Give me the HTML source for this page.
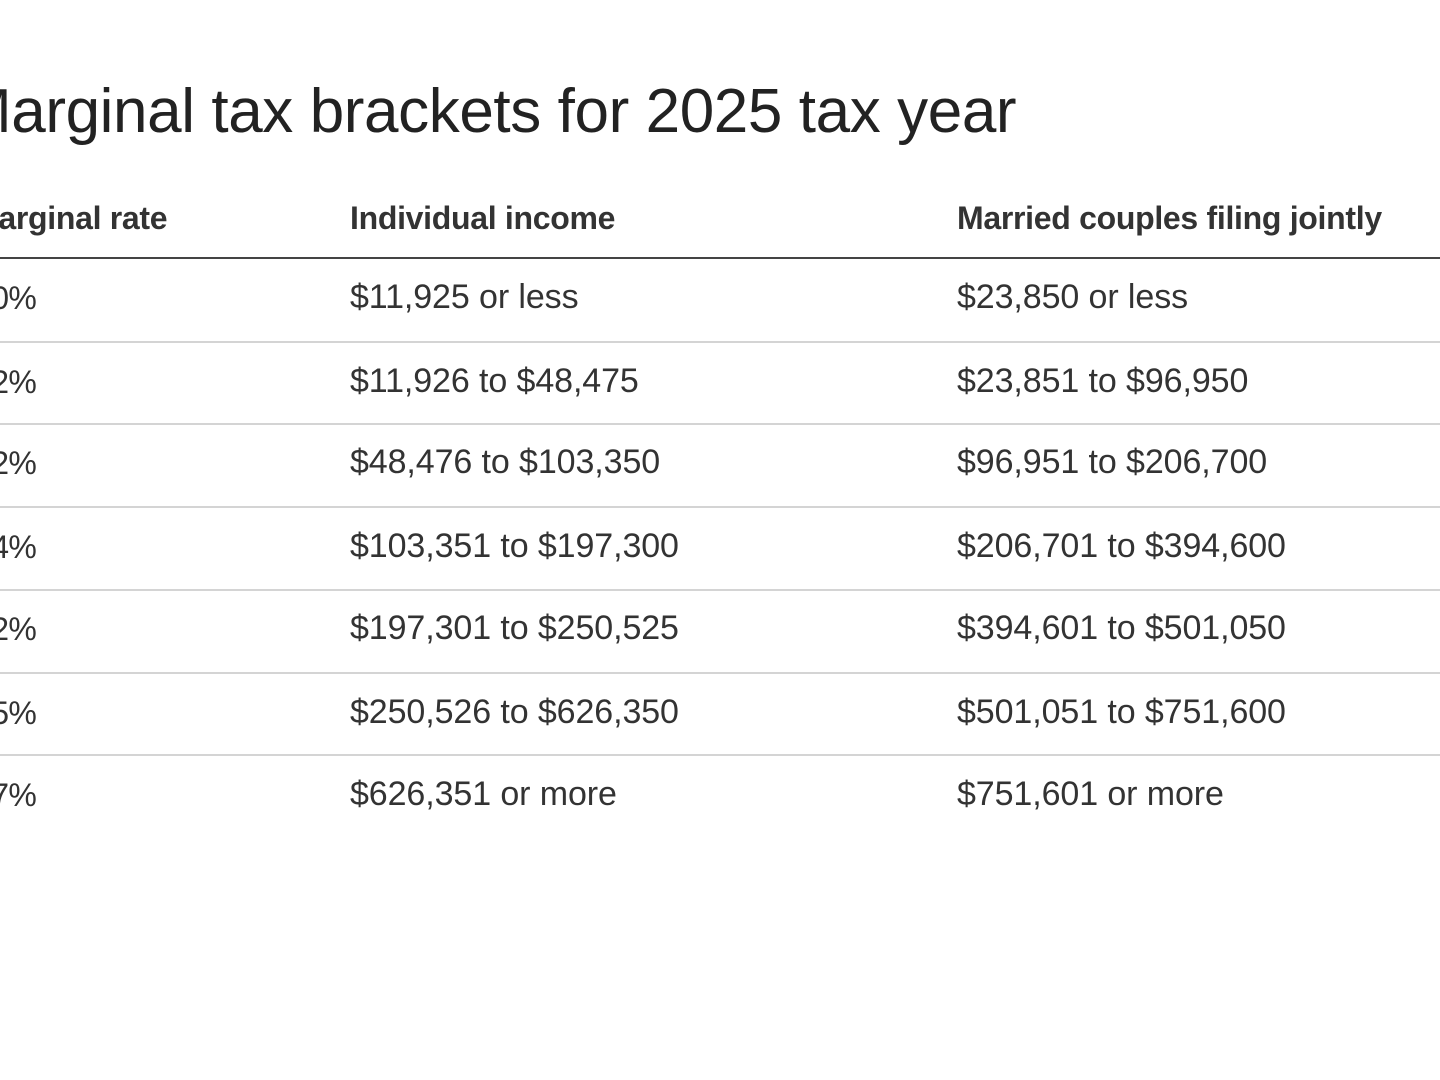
<!DOCTYPE html>
<html><head><meta charset="utf-8"><style>
html,body{margin:0;padding:0;background:#fff;width:1440px;height:1080px;overflow:hidden;position:relative;font-family:"Liberation Sans",sans-serif;color:#2b2b2b}
.t{position:absolute;white-space:nowrap}
h1{position:absolute;left:-40px;top:76px;margin:0;font-size:62px;font-weight:400;letter-spacing:-0.4px;white-space:nowrap;color:#222}
.h{font-size:32px;font-weight:700;top:200px;color:#333;letter-spacing:-0.3px}
.r{font-size:34px;letter-spacing:-0.1px;color:#333}
.rr{font-size:32px;letter-spacing:-0.6px;color:#333}
.line{position:absolute;left:0;width:1440px;height:2px;background:#d4d4d4}
</style></head><body>
<h1>Marginal tax brackets for 2025 tax year</h1>
<div class="t h" style="left:-28px">Marginal rate</div>
<div class="t h" style="left:350px">Individual income</div>
<div class="t h" style="left:957px">Married couples filing jointly</div>
<div class="line" style="top:257px;background:#444"></div>
<div class="line" style="top:341px"></div>
<div class="line" style="top:423px"></div>
<div class="line" style="top:506px"></div>
<div class="line" style="top:589px"></div>
<div class="line" style="top:672px"></div>
<div class="line" style="top:754px"></div>

<div class="t rr" style="left:-26px;top:280px">10%</div>
<div class="t r" style="left:350px;top:278px">$11,925 or less</div>
<div class="t r" style="left:957px;top:278px">$23,850 or less</div>

<div class="t rr" style="left:-26px;top:364px">12%</div>
<div class="t r" style="left:350px;top:362px">$11,926 to $48,475</div>
<div class="t r" style="left:957px;top:362px">$23,851 to $96,950</div>

<div class="t rr" style="left:-26px;top:445px">22%</div>
<div class="t r" style="left:350px;top:443px">$48,476 to $103,350</div>
<div class="t r" style="left:957px;top:443px">$96,951 to $206,700</div>

<div class="t rr" style="left:-26px;top:529px">24%</div>
<div class="t r" style="left:350px;top:527px">$103,351 to $197,300</div>
<div class="t r" style="left:957px;top:527px">$206,701 to $394,600</div>

<div class="t rr" style="left:-26px;top:611px">32%</div>
<div class="t r" style="left:350px;top:609px">$197,301 to $250,525</div>
<div class="t r" style="left:957px;top:609px">$394,601 to $501,050</div>

<div class="t rr" style="left:-26px;top:695px">35%</div>
<div class="t r" style="left:350px;top:693px">$250,526 to $626,350</div>
<div class="t r" style="left:957px;top:693px">$501,051 to $751,600</div>

<div class="t rr" style="left:-26px;top:777px">37%</div>
<div class="t r" style="left:350px;top:775px">$626,351 or more</div>
<div class="t r" style="left:957px;top:775px">$751,601 or more</div>
</body></html>
